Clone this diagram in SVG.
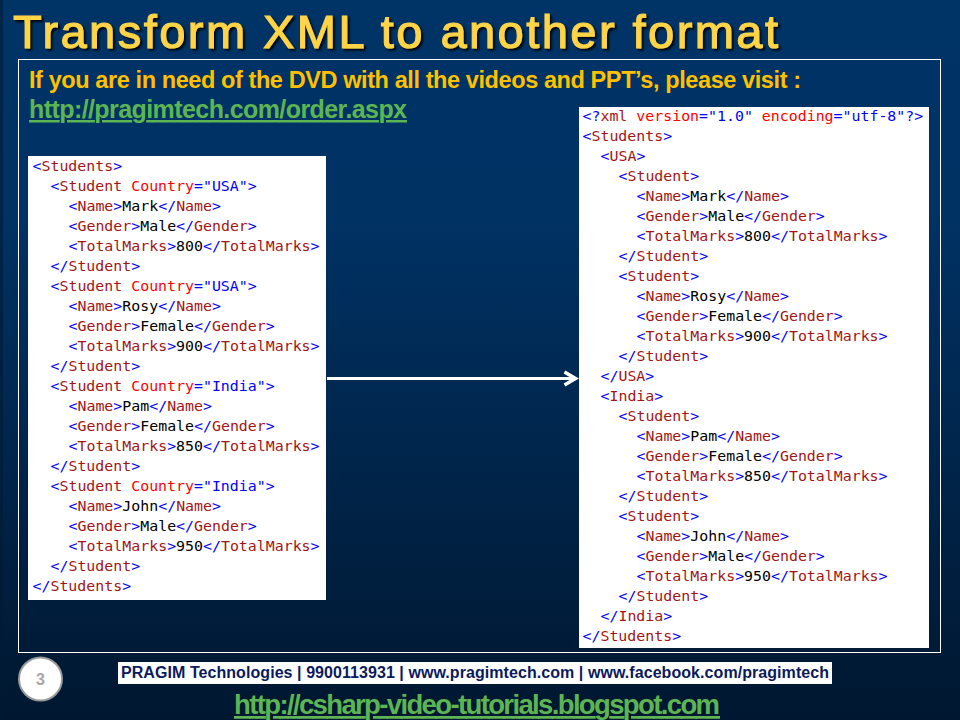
<svg xmlns="http://www.w3.org/2000/svg" width="960" height="720" viewBox="0 0 960 720">
<style>
.code{font-family:"DejaVu Sans Mono","Liberation Mono",monospace;font-size:14.9px;fill:#000;white-space:pre}
.b{fill:#0000ff}.r{fill:#a31515}.a{fill:#ff0000}
.sans{font-family:"Liberation Sans",Arial,sans-serif;font-weight:bold}
.link{fill:#5cb552;text-decoration:underline}
</style>
<defs>
<linearGradient id="bg" x1="0" y1="0" x2="0" y2="1">
<stop offset="0" stop-color="#003366"/><stop offset="0.3" stop-color="#003264"/><stop offset="1" stop-color="#001730"/>
</linearGradient>
<filter id="sh" x="-5%" y="-20%" width="110%" height="140%"><feDropShadow dx="2" dy="2" stdDeviation="0.8" flood-color="#000" flood-opacity="0.9"/></filter>
<marker id="arr" markerUnits="userSpaceOnUse" markerWidth="18" markerHeight="20" refX="14" refY="10" orient="auto">
<path d="M3.500 3.500 L14.500 10 L3.500 16.500" fill="none" stroke="#fff" stroke-width="3.500"/>
</marker>
</defs>
<rect id="background" width="960" height="720" fill="url(#bg)"/>
<rect x="0" y="0" width="3" height="720" fill="#001a33" opacity="0.6"/>
<g id="title"><text x="13" y="48" font-family="'Liberation Sans',Arial,sans-serif" font-size="47" fill="#ffd447" stroke="#ffd447" stroke-width="1.100" filter="url(#sh)" textLength="765" lengthAdjust="spacing">Transform XML to another format</text></g>
<rect id="frame" x="18.500" y="59.500" width="922" height="593" fill="none" stroke="#fff" stroke-width="1"/>
<g id="notice">
<text class="sans" x="29" y="88" font-size="23.500" fill="#ffc000" textLength="772" lengthAdjust="spacing">If you are in need of the DVD with all the videos and PPT’s, please visit :</text>
<text class="sans link" x="29" y="118" font-size="25" textLength="378" lengthAdjust="spacing">http://pragimtech.com/order.aspx</text>
</g>
<g id="source-xml">
<rect x="28" y="156" width="298" height="444" fill="#fff"/>
<text class="code">
<tspan x="32.500" y="171"><tspan class="b">&lt;</tspan><tspan class="r">Students</tspan><tspan class="b">&gt;</tspan></tspan>
<tspan x="50.500" y="191"><tspan class="b">&lt;</tspan><tspan class="r">Student</tspan> <tspan class="a">Country</tspan><tspan class="b">="USA"&gt;</tspan></tspan>
<tspan x="68.500" y="211"><tspan class="b">&lt;</tspan><tspan class="r">Name</tspan><tspan class="b">&gt;</tspan>Mark<tspan class="b">&lt;/</tspan><tspan class="r">Name</tspan><tspan class="b">&gt;</tspan></tspan>
<tspan x="68.500" y="231"><tspan class="b">&lt;</tspan><tspan class="r">Gender</tspan><tspan class="b">&gt;</tspan>Male<tspan class="b">&lt;/</tspan><tspan class="r">Gender</tspan><tspan class="b">&gt;</tspan></tspan>
<tspan x="68.500" y="251"><tspan class="b">&lt;</tspan><tspan class="r">TotalMarks</tspan><tspan class="b">&gt;</tspan>800<tspan class="b">&lt;/</tspan><tspan class="r">TotalMarks</tspan><tspan class="b">&gt;</tspan></tspan>
<tspan x="50.500" y="271"><tspan class="b">&lt;/</tspan><tspan class="r">Student</tspan><tspan class="b">&gt;</tspan></tspan>
<tspan x="50.500" y="291"><tspan class="b">&lt;</tspan><tspan class="r">Student</tspan> <tspan class="a">Country</tspan><tspan class="b">="USA"&gt;</tspan></tspan>
<tspan x="68.500" y="311"><tspan class="b">&lt;</tspan><tspan class="r">Name</tspan><tspan class="b">&gt;</tspan>Rosy<tspan class="b">&lt;/</tspan><tspan class="r">Name</tspan><tspan class="b">&gt;</tspan></tspan>
<tspan x="68.500" y="331"><tspan class="b">&lt;</tspan><tspan class="r">Gender</tspan><tspan class="b">&gt;</tspan>Female<tspan class="b">&lt;/</tspan><tspan class="r">Gender</tspan><tspan class="b">&gt;</tspan></tspan>
<tspan x="68.500" y="351"><tspan class="b">&lt;</tspan><tspan class="r">TotalMarks</tspan><tspan class="b">&gt;</tspan>900<tspan class="b">&lt;/</tspan><tspan class="r">TotalMarks</tspan><tspan class="b">&gt;</tspan></tspan>
<tspan x="50.500" y="371"><tspan class="b">&lt;/</tspan><tspan class="r">Student</tspan><tspan class="b">&gt;</tspan></tspan>
<tspan x="50.500" y="391"><tspan class="b">&lt;</tspan><tspan class="r">Student</tspan> <tspan class="a">Country</tspan><tspan class="b">="India"&gt;</tspan></tspan>
<tspan x="68.500" y="411"><tspan class="b">&lt;</tspan><tspan class="r">Name</tspan><tspan class="b">&gt;</tspan>Pam<tspan class="b">&lt;/</tspan><tspan class="r">Name</tspan><tspan class="b">&gt;</tspan></tspan>
<tspan x="68.500" y="431"><tspan class="b">&lt;</tspan><tspan class="r">Gender</tspan><tspan class="b">&gt;</tspan>Female<tspan class="b">&lt;/</tspan><tspan class="r">Gender</tspan><tspan class="b">&gt;</tspan></tspan>
<tspan x="68.500" y="451"><tspan class="b">&lt;</tspan><tspan class="r">TotalMarks</tspan><tspan class="b">&gt;</tspan>850<tspan class="b">&lt;/</tspan><tspan class="r">TotalMarks</tspan><tspan class="b">&gt;</tspan></tspan>
<tspan x="50.500" y="471"><tspan class="b">&lt;/</tspan><tspan class="r">Student</tspan><tspan class="b">&gt;</tspan></tspan>
<tspan x="50.500" y="491"><tspan class="b">&lt;</tspan><tspan class="r">Student</tspan> <tspan class="a">Country</tspan><tspan class="b">="India"&gt;</tspan></tspan>
<tspan x="68.500" y="511"><tspan class="b">&lt;</tspan><tspan class="r">Name</tspan><tspan class="b">&gt;</tspan>John<tspan class="b">&lt;/</tspan><tspan class="r">Name</tspan><tspan class="b">&gt;</tspan></tspan>
<tspan x="68.500" y="531"><tspan class="b">&lt;</tspan><tspan class="r">Gender</tspan><tspan class="b">&gt;</tspan>Male<tspan class="b">&lt;/</tspan><tspan class="r">Gender</tspan><tspan class="b">&gt;</tspan></tspan>
<tspan x="68.500" y="551"><tspan class="b">&lt;</tspan><tspan class="r">TotalMarks</tspan><tspan class="b">&gt;</tspan>950<tspan class="b">&lt;/</tspan><tspan class="r">TotalMarks</tspan><tspan class="b">&gt;</tspan></tspan>
<tspan x="50.500" y="571"><tspan class="b">&lt;/</tspan><tspan class="r">Student</tspan><tspan class="b">&gt;</tspan></tspan>
<tspan x="32.500" y="591"><tspan class="b">&lt;/</tspan><tspan class="r">Students</tspan><tspan class="b">&gt;</tspan></tspan>
</text>
</g>
<g id="target-xml">
<rect x="579" y="107" width="350" height="541" fill="#fff"/>
<text class="code">
<tspan x="582.500" y="121"><tspan class="b">&lt;?</tspan><tspan class="r">xml</tspan> <tspan class="a">version</tspan><tspan class="b">="1.0"</tspan> <tspan class="a">encoding</tspan><tspan class="b">="utf-8"?&gt;</tspan></tspan>
<tspan x="582.500" y="141"><tspan class="b">&lt;</tspan><tspan class="r">Students</tspan><tspan class="b">&gt;</tspan></tspan>
<tspan x="600.500" y="161"><tspan class="b">&lt;</tspan><tspan class="r">USA</tspan><tspan class="b">&gt;</tspan></tspan>
<tspan x="618.500" y="181"><tspan class="b">&lt;</tspan><tspan class="r">Student</tspan><tspan class="b">&gt;</tspan></tspan>
<tspan x="636.500" y="201"><tspan class="b">&lt;</tspan><tspan class="r">Name</tspan><tspan class="b">&gt;</tspan>Mark<tspan class="b">&lt;/</tspan><tspan class="r">Name</tspan><tspan class="b">&gt;</tspan></tspan>
<tspan x="636.500" y="221"><tspan class="b">&lt;</tspan><tspan class="r">Gender</tspan><tspan class="b">&gt;</tspan>Male<tspan class="b">&lt;/</tspan><tspan class="r">Gender</tspan><tspan class="b">&gt;</tspan></tspan>
<tspan x="636.500" y="241"><tspan class="b">&lt;</tspan><tspan class="r">TotalMarks</tspan><tspan class="b">&gt;</tspan>800<tspan class="b">&lt;/</tspan><tspan class="r">TotalMarks</tspan><tspan class="b">&gt;</tspan></tspan>
<tspan x="618.500" y="261"><tspan class="b">&lt;/</tspan><tspan class="r">Student</tspan><tspan class="b">&gt;</tspan></tspan>
<tspan x="618.500" y="281"><tspan class="b">&lt;</tspan><tspan class="r">Student</tspan><tspan class="b">&gt;</tspan></tspan>
<tspan x="636.500" y="301"><tspan class="b">&lt;</tspan><tspan class="r">Name</tspan><tspan class="b">&gt;</tspan>Rosy<tspan class="b">&lt;/</tspan><tspan class="r">Name</tspan><tspan class="b">&gt;</tspan></tspan>
<tspan x="636.500" y="321"><tspan class="b">&lt;</tspan><tspan class="r">Gender</tspan><tspan class="b">&gt;</tspan>Female<tspan class="b">&lt;/</tspan><tspan class="r">Gender</tspan><tspan class="b">&gt;</tspan></tspan>
<tspan x="636.500" y="341"><tspan class="b">&lt;</tspan><tspan class="r">TotalMarks</tspan><tspan class="b">&gt;</tspan>900<tspan class="b">&lt;/</tspan><tspan class="r">TotalMarks</tspan><tspan class="b">&gt;</tspan></tspan>
<tspan x="618.500" y="361"><tspan class="b">&lt;/</tspan><tspan class="r">Student</tspan><tspan class="b">&gt;</tspan></tspan>
<tspan x="600.500" y="381"><tspan class="b">&lt;/</tspan><tspan class="r">USA</tspan><tspan class="b">&gt;</tspan></tspan>
<tspan x="600.500" y="401"><tspan class="b">&lt;</tspan><tspan class="r">India</tspan><tspan class="b">&gt;</tspan></tspan>
<tspan x="618.500" y="421"><tspan class="b">&lt;</tspan><tspan class="r">Student</tspan><tspan class="b">&gt;</tspan></tspan>
<tspan x="636.500" y="441"><tspan class="b">&lt;</tspan><tspan class="r">Name</tspan><tspan class="b">&gt;</tspan>Pam<tspan class="b">&lt;/</tspan><tspan class="r">Name</tspan><tspan class="b">&gt;</tspan></tspan>
<tspan x="636.500" y="461"><tspan class="b">&lt;</tspan><tspan class="r">Gender</tspan><tspan class="b">&gt;</tspan>Female<tspan class="b">&lt;/</tspan><tspan class="r">Gender</tspan><tspan class="b">&gt;</tspan></tspan>
<tspan x="636.500" y="481"><tspan class="b">&lt;</tspan><tspan class="r">TotalMarks</tspan><tspan class="b">&gt;</tspan>850<tspan class="b">&lt;/</tspan><tspan class="r">TotalMarks</tspan><tspan class="b">&gt;</tspan></tspan>
<tspan x="618.500" y="501"><tspan class="b">&lt;/</tspan><tspan class="r">Student</tspan><tspan class="b">&gt;</tspan></tspan>
<tspan x="618.500" y="521"><tspan class="b">&lt;</tspan><tspan class="r">Student</tspan><tspan class="b">&gt;</tspan></tspan>
<tspan x="636.500" y="541"><tspan class="b">&lt;</tspan><tspan class="r">Name</tspan><tspan class="b">&gt;</tspan>John<tspan class="b">&lt;/</tspan><tspan class="r">Name</tspan><tspan class="b">&gt;</tspan></tspan>
<tspan x="636.500" y="561"><tspan class="b">&lt;</tspan><tspan class="r">Gender</tspan><tspan class="b">&gt;</tspan>Male<tspan class="b">&lt;/</tspan><tspan class="r">Gender</tspan><tspan class="b">&gt;</tspan></tspan>
<tspan x="636.500" y="581"><tspan class="b">&lt;</tspan><tspan class="r">TotalMarks</tspan><tspan class="b">&gt;</tspan>950<tspan class="b">&lt;/</tspan><tspan class="r">TotalMarks</tspan><tspan class="b">&gt;</tspan></tspan>
<tspan x="618.500" y="601"><tspan class="b">&lt;/</tspan><tspan class="r">Student</tspan><tspan class="b">&gt;</tspan></tspan>
<tspan x="600.500" y="621"><tspan class="b">&lt;/</tspan><tspan class="r">India</tspan><tspan class="b">&gt;</tspan></tspan>
<tspan x="582.500" y="641"><tspan class="b">&lt;/</tspan><tspan class="r">Students</tspan><tspan class="b">&gt;</tspan></tspan>
</text>
</g>
<g id="connectors">
<line x1="327" y1="378.500" x2="575" y2="378.500" stroke="#fff" stroke-width="3" marker-end="url(#arr)"/>
</g>
<g id="slide-number">
<circle cx="40.500" cy="679" r="21.500" fill="#fff" stroke="#9a9a9a" stroke-width="2"/>
<text class="sans" x="40.500" y="685" font-size="16" fill="#a6a6a6" text-anchor="middle">3</text>
</g>
<g id="banner">
<rect x="118" y="662" width="714" height="22" fill="#fff"/>
<text class="sans" x="121" y="678" font-size="16" fill="#0b1a5e" textLength="708" lengthAdjust="spacing">PRAGIM Technologies | 9900113931 | www.pragimtech.com | www.facebook.com/pragimtech</text>
</g>
<g id="blog-link"><text class="sans link" x="234" y="714" font-size="27.500" textLength="486" lengthAdjust="spacing">http://csharp-video-tutorials.blogspot.com</text></g>
</svg>
